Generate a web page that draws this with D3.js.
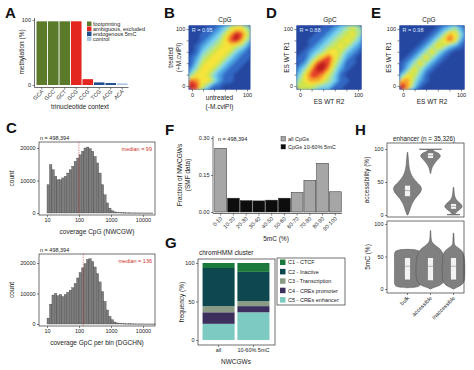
<!DOCTYPE html>
<html><head><meta charset="utf-8">
<script src="https://cdn.jsdelivr.net/npm/d3@7"></script>
<style>body{margin:0;background:#fff}svg{display:block}</style>
</head><body><svg id="c" width="474" height="370"></svg>
<script>
// ---------------- DATA ----------------
// Panel A
const aCats = ["GCA","GCC","GCT","GCG","CCG","TCG","ACG","ACA"];
const aVals = [98, 98, 98, 98, 9, 4, 3, 2.5];
const aGroup = ["footprinting","footprinting","footprinting","ambiguous, excluded","ambiguous, excluded","endogenous 5mC","endogenous 5mC","control"];
const aLegend = ["footprinting","ambiguous, excluded","endogenous 5mC","control"];
const aTicks = [0, 100];
// Panels B, D, E: density grids (rows from y=100 at top to y=0 at bottom, columns x=0..100 step 10), levels 0-9
const heatB = ["00011235664","00112357985","00123468974","01234566542","01345665321","12456653211","13566532110","24665321100","46653211000","87664211000","98531100000"];
const heatD = ["00001123454","00011234564","00112345653","00123456532","01234665321","11357864210","12589853110","24799742100","36887531000","46776431100","55543311000"];
const heatE = ["00000012342","00000124763","00001246862","00012465321","00124642100","01246421000","12464210000","13642100000","36531000000","77421000000","97310000000"];
const heatTicks = [0, 20, 40, 60, 80, 100];
const heatLabels = [0, 100];
// Panel C histograms (log10 coverage bins)
const histLog0 = 1.0, histLogStep = 0.077;
const cpgCounts = [8700,14900,13300,11300,10250,10250,10800,11300,12300,13300,14400,15900,16900,17900,19000,20000,20300,19800,19000,17400,15400,12300,8700,5600,3100,1500,700,350,200,130,90,70,55,45,40,35,30,25,20,18,15,12,10];
const gpcCounts = [1950,6500,9500,10000,9300,9700,9000,9700,10400,11100,11900,13300,15100,16900,18400,19800,21200,21400,20500,18700,16500,13800,10600,7400,4600,2500,1400,650,350,220,150,110,80,60,50,40,35,30,25,20,18,15,12,10];
const cpgMedian = 99, gpcMedian = 136;
const histXTicks = [10, 100, 1000, 10000];
const histYTicks = [0, 10000, 20000];
// Panel F
const fCats = ["0-10","10-20","20-30","30-40","40-50","50-60","60-70","70-80","80-90","90-100"];
const fVals = [0.258, 0.056, 0.046, 0.045, 0.048, 0.056, 0.079, 0.128, 0.197, 0.082];
const fGroup = ["all CpGs","CpGs 10-60% 5mC","CpGs 10-60% 5mC","CpGs 10-60% 5mC","CpGs 10-60% 5mC","CpGs 10-60% 5mC","all CpGs","all CpGs","all CpGs","all CpGs"];
const fLegend = ["all CpGs","CpGs 10-60% 5mC"];
const fTicks = [0, 0.15, 0.30];
// Panel G
const gCats = ["all","10-60% 5mC"];
const gClusters = ["C1 - CTCF","C2 - Inactive","C3 - Transcription","C4 - CREs promoter","C5 - CREs enhancer"];
const gAll = [6.5, 49.5, 8, 15, 21];
const g1060 = [11.5, 38, 6.5, 8, 36];
const gTicks = [0, 50, 100];
// Panel H (violin densities: [value, relative width])
const hCats = ["bulk","accessible","inaccessible"];
const hAccess = [
  [[0,0.03],[5,0.12],[10,0.2],[15,0.28],[20,0.4],[25,0.55],[30,0.75],[35,0.93],[40,1.0],[45,0.88],[50,0.65],[55,0.45],[60,0.3],[65,0.2],[70,0.14],[75,0.1],[80,0.08],[85,0.06],[90,0.04],[95,0.02]],
  [[63,0.02],[68,0.06],[72,0.12],[76,0.22],[80,0.35],[84,0.52],[87,0.65],[90,0.7],[93,0.6],[95,0.42],[97,0.25],[98.8,0.16],[99.6,0.8],[100,0.8]],
  [[0,0.45],[0.6,0.45],[1.5,0.12],[4,0.2],[8,0.42],[11,0.58],[13,0.62],[16,0.55],[20,0.35],[24,0.18],[28,0.1],[32,0.06],[37,0.04],[42,0.02]]
];
const h5mC = [
  [[2,0.1],[3,0.6],[5,0.85],[8,0.92],[15,0.93],[30,0.93],[45,0.93],[55,0.92],[58,0.85],[60,0.6],[61,0.12]],
  [[0,0.03],[2,0.2],[5,0.6],[10,0.9],[15,1.0],[30,1.04],[45,1.0],[52,0.93],[58,0.8],[63,0.6],[67,0.35],[71,0.15],[75,0.07],[80,0.04],[90,0.02]],
  [[0,0.03],[3,0.3],[7,0.6],[12,0.76],[20,0.8],[40,0.8],[50,0.76],[56,0.68],[60,0.53],[64,0.3],[67,0.12],[70,0.06],[78,0.04],[86,0.02]]
];
const hBoxAccess = [[28,37,45],[86,90,94],[9,13,17]];
const hBox5mC = [[14,35,48],[13,35,48],[14,35,48]];
const hTicks = [0, 50, 100];

// ---------------- DRAWING ----------------
const svg = d3.select("#c");
const FF = '"Liberation Sans", Arial, Helvetica, sans-serif';
const ink = "#1a1a1a";
function T(x, y, s, size, o = {}) {
  const t = svg.append("text").attr("x", x).attr("y", y).text(s)
    .attr("font-size", size).attr("font-family", FF).attr("fill", o.fill || ink);
  if (o.anchor) t.attr("text-anchor", o.anchor);
  if (o.weight) t.attr("font-weight", o.weight);
  if (o.rot != null) t.attr("transform", `rotate(${o.rot},${x},${y})`);
  return t;
}
function styleAxis(a, keepDomain) {
  a.attr("font-family", FF).attr("font-size", 5.5);
  a.selectAll("text").attr("fill", "#222");
  a.selectAll(".tick line").attr("stroke", "#333").attr("stroke-width", 0.6);
  if (!keepDomain) a.select(".domain").remove();
  else a.select(".domain").attr("stroke", "#333").attr("stroke-width", 0.6);
  return a;
}
function line(x1, y1, x2, y2, c = "#333", w = 0.7) {
  svg.append("line").attr("x1", x1).attr("y1", y1).attr("x2", x2).attr("y2", y2).attr("stroke", c).attr("stroke-width", w);
}
function frame(x0, y0, x1, y1) {
  svg.append("rect").attr("x", x0).attr("y", y0).attr("width", x1 - x0).attr("height", y1 - y0)
    .attr("fill", "none").attr("stroke", "#333").attr("stroke-width", 0.7);
}

// panel letters
[["A",5,18],["B",164,18],["D",266,18],["E",371,18],["C",6,133],["F",165,135],["G",165,248],["H",355,135]]
  .forEach(([l,x,y]) => T(x, y, l, 15, {weight: "bold", fill: "#111"}));

// ===== Panel A =====
{
  const x = d3.scaleBand().domain(aCats).range([36.5, 127.5]).paddingInner(0.08);
  const y = d3.scaleLinear().domain([0, 100]).range([85, 20]);
  const col = d3.scaleOrdinal().domain(aLegend).range(["#5b7b2b", "#e3261f", "#1f4f8f", "#adc6e2"]);
  svg.append("g").selectAll("rect").data(aCats).join("rect")
    .attr("x", d => x(d)).attr("width", x.bandwidth())
    .attr("y", (d, i) => y(aVals[i])).attr("height", (d, i) => y(0) - y(aVals[i]))
    .attr("fill", (d, i) => col(aGroup[i]));
  line(34.5, 18, 34.5, 87.5); line(34.5, 87.5, 128.5, 87.5);
  styleAxis(svg.append("g").attr("transform", "translate(34.5,0)")
    .call(d3.axisLeft(y).tickValues(aTicks).tickSize(2).tickPadding(1.5)));
  const bx = svg.append("g").attr("transform", "translate(0,87.5)")
    .call(d3.axisBottom(x).tickSize(2).tickFormat(""));
  styleAxis(bx);
  aCats.forEach(c => T(x(c) + x.bandwidth() / 2 + 2, 92, c, 5.5, {anchor: "end", rot: -45}));
  T(80, 109, "trinucleotide context", 6.5, {anchor: "middle"});
  T(24, 52, "methylation (%)", 6.5, {anchor: "middle", rot: -90});
  aLegend.forEach((l, i) => {
    svg.append("rect").attr("x", 87).attr("y", 21.5 + i * 5).attr("width", 4.5).attr("height", 4.5).attr("fill", col(l));
    T(93, 25.8 + i * 5, l, 5.5);
  });
}

// ===== Heatmaps B, D, E =====
const heatColors = ["#28469f","#3068c4","#4ca2e2","#78d3ec","#a8e39c","#d0e44a","#f6e33a","#f7a22c","#e6412a","#bd1b1b"];
const defs = svg.append("defs");
defs.append("filter").attr("id", "blur").attr("x", "-10%").attr("y", "-10%").attr("width", "120%").attr("height", "120%")
  .append("feGaussianBlur").attr("stdDeviation", 1.6);
function heat(id, rows, px0, px100, title, tx, rText, xl1, xl2, yl1, yl2, ylx) {
  const unit = (px100 - px0) / 100;
  const L = px0 - 6 * unit, R = px100 + 6 * unit;
  const yS = d3.scaleLinear().domain([0, 100]).range([86, 29]);
  const Tp = yS(106), B = yS(-6);
  const xS = d3.scaleLinear().domain([0, 100]).range([px0, px100]);
  const n = rows.length;
  const vals = [];
  rows.forEach(r => r.split("").forEach(c => vals.push(+c)));
  const gx = d3.scaleLinear().domain([0, n]).range([L, R]);
  const gy = d3.scaleLinear().domain([0, n]).range([Tp, B]);
  const path = d3.geoPath(d3.geoTransform({point(a, b) { this.stream.point(gx(a), gy(b)); }}));
  const conts = d3.contours().size([n, n]).thresholds(d3.range(0.5, 9.5, 1))(vals);
  defs.append("clipPath").attr("id", "clip" + id).append("rect")
    .attr("x", L).attr("y", Tp).attr("width", R - L).attr("height", B - Tp);
  const g = svg.append("g").attr("clip-path", `url(#clip${id})`);
  const draw = gg => {
    gg.append("rect").attr("x", L - 5).attr("y", Tp - 5).attr("width", R - L + 10).attr("height", B - Tp + 10).attr("fill", heatColors[0]);
    gg.selectAll("path").data(conts).join("path").attr("d", path).attr("fill", (d, i) => heatColors[i + 1]);
  };
  draw(g.append("g"));
  draw(g.append("g").attr("filter", "url(#blur)"));
  styleAxis(svg.append("g").attr("transform", `translate(${L},0)`)
    .call(d3.axisLeft(yS).tickValues(heatTicks).tickSize(2).tickPadding(1.5)
      .tickFormat(d => heatLabels.includes(d) ? d : "")));
  styleAxis(svg.append("g").attr("transform", `translate(0,${B})`)
    .call(d3.axisBottom(xS).tickValues(heatTicks).tickSize(2).tickPadding(1.5)
      .tickFormat(d => heatLabels.includes(d) ? d : "")));
  T(tx, 22, title, 6.5, {anchor: "middle"});
  T(L + 3, Tp + 6.5, rText, 5.5, {fill: "#d8e6ff"});
  const cx = (L + R) / 2;
  if (xl2) { T(cx, 100, xl1, 6.5, {anchor: "middle"}); T(cx, 108.5, xl2, 6.5, {anchor: "middle"}); }
  else T(cx, 104, xl1, 6.5, {anchor: "middle"});
  const cy = (Tp + B) / 2;
  if (yl2) { T(ylx - 4, cy, yl1, 6.5, {anchor: "middle", rot: -90}); T(ylx + 4, cy, yl2, 6.5, {anchor: "middle", rot: -90}); }
  else T(ylx, cy, yl1, 6.5, {anchor: "middle", rot: -90});
}
heat("B", heatB, 192, 247, "CpG", 225, "R = 0.95", "untreated", "(-M.cviPI)", "treated", "(+M.cviPI)", 177);
heat("D", heatD, 300, 358, "GpC", 330, "R = 0.88", "ES WT R2", null, "ES WT R1", null, 289);
heat("E", heatE, 403, 461, "CpG", 429, "R = 0.98", "ES WT R2", null, "ES WT R1", null, 391);

// ===== Panel C histograms =====
function hist(counts, top, bottom, y0px, y20px, median, xlab) {
  const x = d3.scaleLog().domain([10 ** 0.75, 10 ** 4.375]).range([39, 155]);
  const y = d3.scaleLinear().domain([0, 20000]).range([y0px, y20px]);
  svg.append("g").selectAll("rect").data(counts).join("rect")
    .attr("x", (d, i) => x(10 ** (histLog0 + i * histLogStep)))
    .attr("width", (d, i) => x(10 ** (histLog0 + (i + 1) * histLogStep)) - x(10 ** (histLog0 + i * histLogStep)))
    .attr("y", d => y(d)).attr("height", d => Math.max(0.4, y(0) - y(d)))
    .attr("fill", "#7d7d7d").attr("stroke", "#3a3a3a").attr("stroke-width", 0.3);
  svg.append("line").attr("x1", x(median)).attr("x2", x(median)).attr("y1", top).attr("y2", bottom)
    .attr("stroke", "#d0453a").attr("stroke-width", 0.6).attr("stroke-dasharray", "1.5,1");
  frame(39, top, 155, bottom);
  styleAxis(svg.append("g").attr("transform", "translate(39,0)")
    .call(d3.axisLeft(y).tickValues(histYTicks).tickSize(2).tickPadding(1.5).tickFormat(d3.format("d"))));
  styleAxis(svg.append("g").attr("transform", `translate(0,${bottom})`)
    .call(d3.axisBottom(x).tickValues(histXTicks).tickSize(2).tickPadding(1.5).tickFormat(d3.format("d"))));
  T(40, top - 2, "n = 498,394", 5.5);
  T(152, top + 9, "median = " + median, 5.5, {anchor: "end", fill: "#d0302a"});
  T(97, bottom + 19, xlab, 6.5, {anchor: "middle"});
  T(14, (top + bottom) / 2, "count", 6.5, {anchor: "middle", rot: -90});
}
hist(cpgCounts, 142, 215, 213, 148, cpgMedian, "coverage CpG (NWCGW)");
hist(gpcCounts, 254, 326, 324, 263, gpcMedian, "coverage GpC per bin (DGCHN)");

// ===== Panel F =====
{
  const x = d3.scaleBand().domain(fCats).range([214.5, 341.5]).paddingInner(0.07).paddingOuter(0.02);
  const y = d3.scaleLinear().domain([0, 0.30]).range([212, 138]);
  const col = d3.scaleOrdinal().domain(fLegend).range(["#a6a6a6", "#0d0d0d"]);
  svg.append("g").selectAll("rect").data(fCats).join("rect")
    .attr("x", d => x(d)).attr("width", x.bandwidth())
    .attr("y", (d, i) => y(fVals[i])).attr("height", (d, i) => y(0) - y(fVals[i]))
    .attr("fill", (d, i) => col(fGroup[i])).attr("stroke", "#2a2a2a").attr("stroke-width", 0.5);
  line(213, 136, 213, 213.5); line(213, 213.5, 342, 213.5);
  styleAxis(svg.append("g").attr("transform", "translate(213,0)")
    .call(d3.axisLeft(y).tickValues(fTicks).tickSize(2).tickPadding(1.5).tickFormat(d3.format(".2f"))));
  styleAxis(svg.append("g").attr("transform", "translate(0,213.5)").call(d3.axisBottom(x).tickSize(2).tickFormat("")));
  fCats.forEach(c => T(x(c) + x.bandwidth() / 2 + 2, 219, c, 5.5, {anchor: "end", rot: -45}));
  T(218, 141, "n = 498,394", 5.5);
  fLegend.forEach((l, i) => {
    svg.append("rect").attr("x", 281).attr("y", 136.5 + i * 8).attr("width", 4.5).attr("height", 4.5)
      .attr("fill", col(l)).attr("stroke", "#2a2a2a").attr("stroke-width", 0.4);
    T(288, 140.7 + i * 8, l, 5.5);
  });
  T(276, 241, "5mC (%)", 6.5, {anchor: "middle"});
  T(182, 175, "Fraction of NWCGWs", 6.5, {anchor: "middle", rot: -90});
  T(190, 175, "(SMF data)", 6.5, {anchor: "middle", rot: -90});
}

// ===== Panel G =====
{
  const x = d3.scaleBand().domain(gCats).range([201.5, 270.5]).paddingInner(0.08).paddingOuter(0.03);
  const y = d3.scaleLinear().domain([0, 100]).range([340, 263]);
  const col = d3.scaleOrdinal().domain(gClusters).range(["#1b7a3b", "#0e474d", "#8a9c86", "#3c2f5e", "#7ccac2"]);
  const rows = gCats.map((c, i) => { const o = {cat: c}; gClusters.forEach((k, j) => o[k] = (i === 0 ? gAll : g1060)[j]); return o; });
  const stack = d3.stack().keys(gClusters.slice().reverse())(rows);
  svg.append("g").selectAll("g").data(stack).join("g").attr("fill", d => col(d.key))
    .selectAll("rect").data(d => d).join("rect")
    .attr("x", d => x(d.data.cat)).attr("width", x.bandwidth())
    .attr("y", d => y(d[1])).attr("height", d => y(d[0]) - y(d[1]));
  frame(198, 259, 275, 345);
  styleAxis(svg.append("g").attr("transform", "translate(198,0)")
    .call(d3.axisLeft(y).tickValues(gTicks).tickSize(2).tickPadding(1.5)));
  styleAxis(svg.append("g").attr("transform", "translate(0,345)").call(d3.axisBottom(x).tickSize(2).tickPadding(1.5)));
  T(199, 255, "chromHMM cluster", 6.5);
  T(236, 363.5, "NWCGWs", 6.5, {anchor: "middle"});
  T(184, 302, "frequency (%)", 6.5, {anchor: "middle", rot: -90});
  frame(277, 258, 345, 305);
  gClusters.forEach((k, i) => {
    svg.append("rect").attr("x", 280).attr("y", 259.5 + i * 9.4).attr("width", 5.5).attr("height", 5.5).attr("fill", col(k));
    T(288, 264.3 + i * 9.4, k, 5.5);
  });
}

// ===== Panel H =====
{
  const x = d3.scaleBand().domain(hCats).range([396, 465]);
  const w = d3.scaleLinear().domain([0, 1]).range([0, 14]);
  function vpanel(data, boxes, top, bottom, y0, y100, ylab, ylx, xlabels) {
    const y = d3.scaleLinear().domain([0, 100]).range([y0, y100]);
    const area = d3.area().curve(d3.curveCatmullRom).y(d => y(d[0]));
    data.forEach((dens, i) => {
      const c = x(hCats[i]) + x.bandwidth() / 2;
      svg.append("path").datum(dens)
        .attr("d", area.x0(d => c - w(d[1])).x1(d => c + w(d[1])))
        .attr("fill", "#808080").attr("stroke", "#505050").attr("stroke-width", 0.5);
      const b = boxes[i];
      svg.append("rect").attr("x", c - 2.8).attr("width", 5.6).attr("y", y(b[2])).attr("height", y(b[0]) - y(b[2]))
        .attr("fill", "#f2f2f2").attr("stroke", "#666").attr("stroke-width", 0.4);
      svg.append("line").attr("x1", c - 2.8).attr("x2", c + 2.8).attr("y1", y(b[1])).attr("y2", y(b[1]))
        .attr("stroke", "#888").attr("stroke-width", 0.6);
    });
    frame(387, top, 464, bottom);
    styleAxis(svg.append("g").attr("transform", "translate(387,0)")
      .call(d3.axisLeft(y).tickValues(hTicks).tickSize(2).tickPadding(1.5)));
    T(ylx, (top + bottom) / 2, ylab, 6.5, {anchor: "middle", rot: -90});
    if (xlabels) {
      styleAxis(svg.append("g").attr("transform", `translate(0,${bottom})`).call(d3.axisBottom(x).tickSize(2).tickFormat("")));
      hCats.forEach(c => T(x(c) + x.bandwidth() / 2 + 2, bottom + 5.5, c, 5.5, {anchor: "end", rot: -45}));
    }
  }
  vpanel(hAccess, hBoxAccess, 143, 217, 215, 149, "accessibility (%)", 369, false);
  vpanel(h5mC, hBox5mC, 221, 293, 289, 224, "5mC (%)", 370, true);
  T(424, 140.5, "enhancer (n = 35,326)", 6.3, {anchor: "middle"});
}
</script></body></html>
